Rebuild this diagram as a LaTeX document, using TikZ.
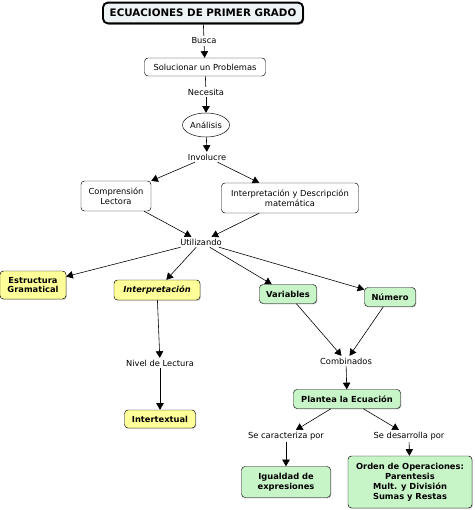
\documentclass[tikz,border=0pt]{standalone}
\usepackage{fontspec}
\setmainfont{DejaVu Sans}
\usetikzlibrary{shapes.geometric, arrows, shadows}
\definecolor{paleyellow}{HTML}{FFFF99}
\definecolor{palegreen}{HTML}{C8F5C8}
\definecolor{titlefill}{HTML}{EEF4F6}

\tikzset{
  concept/.style={draw, rounded corners=3pt, fill=white, align=center, inner sep=1pt,
    font=\fontsize{7.1}{8.4}\selectfont},
  yellowbox/.style={concept, fill=paleyellow, font=\fontsize{7.1}{8.4}\selectfont\bfseries,
    drop shadow={shadow xshift=0.7pt, shadow yshift=-0.7pt, fill=gray!80}},
  greenbox/.style={concept, fill=palegreen, font=\fontsize{7.1}{8.4}\selectfont\bfseries,
    drop shadow={shadow xshift=0.7pt, shadow yshift=-0.7pt, fill=gray!80}},
  linkword/.style={inner sep=1.5pt, font=\fontsize{7.1}{8.4}\selectfont},
  arr/.style={-triangle 60, line width=0.5pt},
  link/.style={line width=0.5pt}
}

\begin{document}
\begin{tikzpicture}[x=0.03cm, y=-0.03cm]
\useasboundingbox (0,0) rectangle (474,510);

% top of the map
\node[concept, fill=titlefill, line width=1.6pt, rounded corners=4pt,
  font=\fontsize{8.8}{10}\selectfont\bfseries, minimum width=6.0cm, minimum height=0.62cm,
  drop shadow={shadow xshift=1pt, shadow yshift=-1pt, fill=black}] (title) at (203,13) {ECUACIONES DE PRIMER GRADO};
\node[linkword] (busca) at (204,41) {Busca};
\node[concept, minimum width=3.63cm, minimum height=0.54cm] (solucionar) at (205,67) {Solucionar un Problemas};
\node[linkword] (necesita) at (206,92) {Necesita};
\node[draw, ellipse, inner sep=0pt, minimum width=1.41cm, minimum height=0.72cm,
  font=\fontsize{7.1}{8.4}\selectfont] (analisis) at (206,125) {Análisis};
\node[linkword] (involucre) at (207,157) {Involucre};

% second level
\node[concept, minimum width=2.1cm, minimum height=0.9cm] (comprension) at (116,196) {Comprensión\\Lectora};
\node[concept, minimum width=4.11cm, minimum height=0.9cm] (descripcion) at (290,198) {Interpretación y Descripción\\matemática};
\node[linkword] (utilizando) at (201,242) {Utilizando};

% colored concepts
\node[yellowbox, minimum width=1.98cm, minimum height=0.84cm] (estructura) at (33,285) {Estructura\\Gramatical};
\node[yellowbox, minimum width=2.58cm, minimum height=0.6cm,
  font=\fontsize{7.1}{8.4}\selectfont\bfseries\itshape] (interpretacion) at (157,290) {Interpretación};
\node[greenbox, minimum width=1.71cm, minimum height=0.57cm] (variables) at (288,294) {Variables};
\node[greenbox, minimum width=1.53cm, minimum height=0.57cm] (numero) at (390,297) {Número};

% left branch
\node[linkword] (nivel) at (160,363) {Nivel de Lectura};
\node[yellowbox, minimum width=2.13cm, minimum height=0.54cm] (intertextual) at (160,419) {Intertextual};

% right branch
\node[linkword] (combinados) at (346,361) {Combinados};
\node[greenbox, minimum width=3.21cm, minimum height=0.57cm] (plantea) at (347,399) {Plantea la Ecuación};
\node[linkword] (caracteriza) at (286,436) {Se caracteriza por};
\node[linkword] (desarrolla) at (409,436) {Se desarrolla por};
\node[greenbox, minimum width=2.67cm, minimum height=0.93cm] (igualdad) at (286,482) {Igualdad de\\expresiones};
\node[greenbox, minimum width=3.72cm, minimum height=1.56cm] (orden) at (410,482) {Orden de Operaciones:\\Parentesis\\Mult. y División\\Sumas y Restas};

% connectors
\draw[link] (title) -- (busca);
\draw[arr] (busca) -- (solucionar);
\draw[link] (solucionar) -- (necesita);
\draw[arr] (necesita) -- (analisis);
\draw[arr] (analisis) -- (involucre);
\draw[arr] (involucre) -- (comprension);
\draw[arr] (involucre) -- (descripcion);
\draw[arr] (comprension) -- (utilizando);
\draw[arr] (descripcion) -- (utilizando);
\draw[arr] (utilizando) -- (estructura);
\draw[arr] (utilizando) -- (interpretacion);
\draw[arr] (utilizando) -- (variables);
\draw[arr] (utilizando) -- (numero);
\draw[arr] (interpretacion) -- (nivel);
\draw[arr] (nivel) -- (intertextual);
\draw[arr] (variables) -- (combinados);
\draw[arr] (numero) -- (combinados);
\draw[arr] (combinados) -- (plantea);
\draw[arr] (plantea) -- (caracteriza);
\draw[arr] (plantea) -- (desarrolla);
\draw[arr] (caracteriza) -- (igualdad);
\draw[arr] (desarrolla) -- (orden);
\end{tikzpicture}
\end{document}
